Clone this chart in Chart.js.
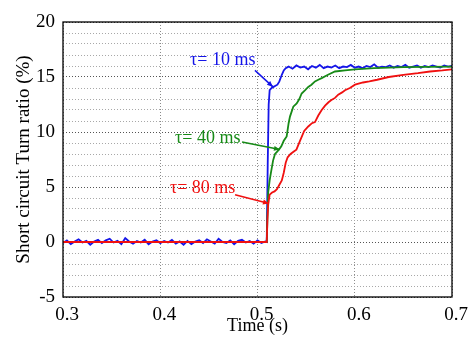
<!DOCTYPE html>
<html>
<head>
<meta charset="utf-8">
<script src="https://cdn.jsdelivr.net/npm/chart.js@4/dist/chart.umd.min.js"></script>
<style>
html,body{margin:0;padding:0;background:#fff;}
canvas{display:block;}
</style>
</head>
<body>
<canvas id="c" width="474" height="343"></canvas>
<script>
// ---- data (time in s, turn ratio in %) ----
const blueT = [0.300,0.304,0.308,0.312,0.316,0.320,0.324,0.328,0.332,0.336,0.340,0.344,0.348,0.352,0.356,0.360,0.364,0.368,0.372,0.376,0.380,0.384,0.388,0.392,0.396,0.400,0.404,0.408,0.412,0.416,0.420,0.424,0.428,0.432,0.436,0.440,0.444,0.448,0.452,0.456,0.460,0.464,0.468,0.472,0.476,0.480,0.484,0.488,0.492,0.496,0.500,0.504,0.508,
  0.5095,0.5105,0.5115,0.5125,0.5145,0.5165,0.5185,0.5205,0.5225,0.5250,0.5270,0.5290,0.5310,
  0.532,0.536,0.540,0.544,0.548,0.552,0.556,0.560,0.564,0.568,0.572,0.576,0.580,0.584,0.588,0.592,0.596,0.600,0.604,0.608,0.612,0.616,0.620,0.624,0.628,0.632,0.636,0.640,0.644,0.648,0.652,0.656,0.660,0.664,0.668,0.672,0.676,0.680,0.684,0.688,0.692,0.696,0.700];
const blueV = [-0.10,0.15,-0.20,0.05,0.25,-0.05,0.10,-0.25,0.05,0.20,-0.10,0.15,0.30,-0.05,0.10,-0.20,0.35,0.05,-0.15,0.10,-0.05,0.20,-0.20,0.05,0.15,-0.10,0.10,-0.05,0.20,-0.15,0.05,-0.25,0.10,-0.20,0.05,0.15,-0.10,0.25,0.05,-0.15,0.30,0.00,-0.10,0.15,-0.20,0.10,0.20,-0.05,0.10,-0.15,0.15,-0.10,0.05,
  0.0,7.0,12.5,13.8,14.0,14.1,14.2,14.3,14.6,15.2,15.6,15.8,15.9,
  15.95,15.75,16.05,15.85,15.95,15.70,16.00,15.85,16.10,15.80,15.95,15.85,16.05,15.80,15.95,15.90,16.10,15.85,15.95,15.80,16.00,15.90,16.15,15.85,15.95,15.90,16.05,15.85,16.00,15.90,16.10,15.85,15.95,16.05,15.85,16.00,15.90,16.05,15.95,15.85,16.05,15.95,16.00];

const greenT = [0.300,0.5095,0.5103,0.5110,0.5125,0.5140,0.5160,0.5180,0.5200,0.5220,0.5245,0.5270,0.5300,0.5320,0.5334,0.5368,0.5403,0.5430,0.5454,0.5490,0.5522,0.5555,0.5591,0.5625,0.5660,0.5725,0.5797,0.5900,0.6003,0.6200,0.6500,0.7000];
const greenV = [0,0,2.5,4.5,5.6,6.4,7.4,8.0,8.2,8.4,8.7,9.2,9.6,10.8,11.4,12.3,12.6,13.0,13.5,13.8,14.1,14.3,14.6,14.75,14.9,15.2,15.5,15.6,15.7,15.8,15.9,15.95];

const redT = [0.300,0.5095,0.5102,0.5110,0.5125,0.5150,0.5175,0.5200,0.5225,0.5250,0.5270,0.5290,0.5310,0.5340,0.5370,0.5400,0.5437,0.5480,0.5522,0.5560,0.5591,0.5625,0.5660,0.5695,0.5730,0.5760,0.5797,0.5830,0.5870,0.5900,0.5950,0.6003,0.6085,0.6150,0.6230,0.6350,0.6500,0.6650,0.6774,0.6900,0.7000];
const redV = [0,0,2.0,3.4,4.3,4.5,4.6,4.8,5.2,5.6,6.3,7.2,7.7,8.0,8.2,8.4,9.2,10.1,10.5,10.8,10.9,11.5,12.0,12.4,12.7,12.9,13.1,13.4,13.6,13.8,14.0,14.3,14.5,14.6,14.75,15.0,15.2,15.35,15.5,15.6,15.7];

const xTicks = [0.3,0.4,0.5,0.6,0.7];
const yMajorTicks = [-5,0,5,10,15,20];

const seriesLabels = ['\u03c4= 80 ms','\u03c4= 40 ms','\u03c4= 10 ms'];

// annotation anchors in data coordinates
const annotations = [
  {text: seriesLabels[2], color:'#1515e8', tx:0.4306, ty:16.5, x0:0.4974, y0:15.6, x1:0.5159, y1:14.1},
  {text: seriesLabels[1], color:'#178a17', tx:0.4152, ty:9.45, x0:0.4841, y0:9.1, x1:0.5231, y1:8.4},
  {text: seriesLabels[0], color:'#f01010', tx:0.4100, ty:4.9, x0:0.4769, y0:4.3, x1:0.5118, y1:3.5}
];

const pts = (t, v) => t.map((x, i) => ({x: x, y: v[i]}));
const FONT = "'Liberation Serif', 'Times New Roman', serif";

const boxPlugin = {
  id: 'box',
  afterDatasetsDraw(chart) {
    const {ctx, chartArea: a} = chart;
    ctx.save();
    ctx.strokeStyle = '#000';
    ctx.lineWidth = 1.3;
    ctx.strokeRect(a.left, a.top, a.right - a.left, a.bottom - a.top);
    ctx.restore();
  }
};

const annotPlugin = {
  id: 'annot',
  afterDatasetsDraw(chart) {
    const {ctx, scales: {x, y}} = chart;
    ctx.save();
    ctx.font = '18px ' + FONT;
    ctx.textBaseline = 'middle';
    ctx.textAlign = 'left';
    annotations.forEach(a => {
      ctx.fillStyle = a.color;
      ctx.strokeStyle = a.color;
      ctx.fillText(a.text, x.getPixelForValue(a.tx), y.getPixelForValue(a.ty));
      const px0 = x.getPixelForValue(a.x0), py0 = y.getPixelForValue(a.y0);
      const px1 = x.getPixelForValue(a.x1), py1 = y.getPixelForValue(a.y1);
      ctx.lineWidth = 1.5;
      ctx.beginPath(); ctx.moveTo(px0, py0); ctx.lineTo(px1, py1); ctx.stroke();
      const ang = Math.atan2(py1 - py0, px1 - px0);
      const L = 6, W = 2.5;
      ctx.beginPath();
      ctx.moveTo(px1, py1);
      ctx.lineTo(px1 - L*Math.cos(ang) + W*Math.sin(ang), py1 - L*Math.sin(ang) - W*Math.cos(ang));
      ctx.lineTo(px1 - L*Math.cos(ang) - W*Math.sin(ang), py1 - L*Math.sin(ang) + W*Math.cos(ang));
      ctx.closePath(); ctx.fill();
    });
    ctx.restore();
  }
};

const common = {showLine: true, pointRadius: 0, borderWidth: 1.8, fill: false, tension: 0};

new Chart(document.getElementById('c'), {
  type: 'scatter',
  data: {
    datasets: [
      Object.assign({label: seriesLabels[0], data: pts(redT, redV), borderColor: '#f01010'}, common),
      Object.assign({label: seriesLabels[1], data: pts(greenT, greenV), borderColor: '#178a17'}, common),
      Object.assign({label: seriesLabels[2], data: pts(blueT, blueV), borderColor: '#1515e8'}, common)
    ]
  },
  options: {
    responsive: false,
    animation: false,
    layout: {padding: {left: 0, top: 22, right: 22, bottom: 0}},
    plugins: {legend: {display: false}, tooltip: {enabled: false}},
    scales: {
      x: {
        type: 'linear', min: xTicks[0], max: xTicks[xTicks.length - 1],
        afterFit: s => { s.height = 46; },
        afterBuildTicks: s => { s.ticks = xTicks.map(v => ({value: v})); },
        ticks: {
          callback: v => Number(v).toFixed(1),
          font: {family: FONT, size: 19}, color: '#000',
          padding: 7, labelOffset: 4, maxRotation: 0, autoSkip: false
        },
        grid: {color: '#8a8a8a', drawTicks: false, lineWidth: 1},
        border: {display: false, dash: [1, 2]},
        title: {display: true, text: 'Time (s)', font: {family: FONT, size: 18}, color: '#000', padding: {top: 0, bottom: 6}}
      },
      y: {
        type: 'linear', min: yMajorTicks[0], max: yMajorTicks[yMajorTicks.length - 1],
        afterFit: s => { s.width = 63; },
        ticks: {
          stepSize: 1, maxTicksLimit: 100, autoSkip: false,
          callback: v => (yMajorTicks.includes(v) ? String(v) : ''),
          font: {family: FONT, size: 19}, color: '#000', padding: 8
        },
        grid: {
          color: c => (yMajorTicks.includes(c.tick.value) ? '#555' : '#a8a8a8'),
          drawTicks: false, lineWidth: 1
        },
        border: {display: false, dash: [1, 2]},
        title: {display: true, text: 'Short circuit Turn ratio (%)', font: {family: FONT, size: 19}, color: '#000', padding: {top: 13, bottom: 0}}
      }
    }
  },
  plugins: [boxPlugin, annotPlugin]
});
</script>
</body>
</html>
